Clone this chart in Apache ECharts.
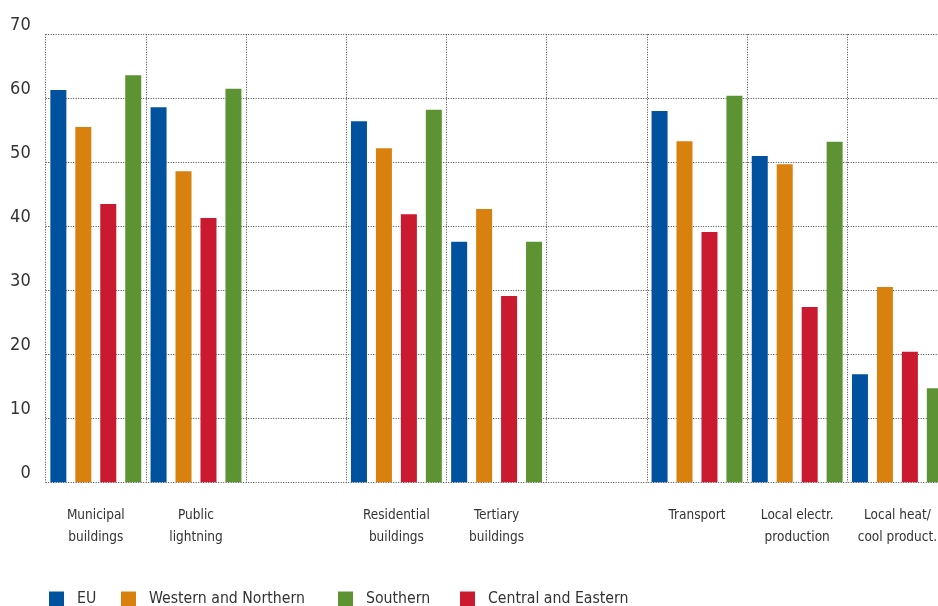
<!DOCTYPE html>
<html>
<head>
<meta charset="utf-8">
<script src="https://cdn.jsdelivr.net/npm/echarts@6/dist/echarts.min.js"></script>
<style>
html,body{margin:0;padding:0;background:#fff;overflow:hidden;width:938px;height:606px;}
#c{width:948px;height:606px;}
</style>
</head>
<body>
<div id="c"></div>
<script>
const categories = ["Municipal\nbuildings", "Public\nlightning", "", "Residential\nbuildings", "Tertiary\nbuildings", "", "Transport", "Local electr.\nproduction", "Local heat/\ncool product."];
const euValues       = [61.3, 58.6, null, 56.4, 37.6, null, 58.0, 51.0, 16.9];
const westernValues  = [55.5, 48.6, null, 52.2, 42.7, null, 53.3, 49.7, 30.5];
const centralValues  = [43.5, 41.3, null, 41.9, 29.1, null, 39.1, 27.4, 20.4];
const southernValues = [63.6, 61.5, null, 58.2, 37.6, null, 60.4, 53.2, 14.7];
const yTicks = [0, 10, 20, 30, 40, 50, 60, 70];

const FONT = "'DejaVu Sans Condensed', 'Liberation Sans Narrow', sans-serif";
const colors = {eu:'#00529f', west:'#d8810e', south:'#5e9333', central:'#c91a2f'};

const chart = echarts.init(document.getElementById('c'), null, {renderer:'canvas', width:948, height:606});
const dotted = {color:'#444', width:1, type:[1,1.5]};

function legendAt(left, name){
  return {
    data:[name], left:left, top:591, itemWidth:15, itemHeight:15, itemGap:0,
    icon:'rect', padding:0,
    textStyle:{fontFamily:FONT, fontSize:15.7, color:'#333', padding:[0,0,0,8]}
  };
}

chart.setOption({
  animation:false,
  backgroundColor:'#fff',
  grid:{left:45.7, top:34.3, width:901.8, height:448},
  legend:[
    legendAt(49, 'EU'),
    legendAt(121, 'Western and Northern'),
    legendAt(338, 'Southern'),
    legendAt(460, 'Central and Eastern')
  ],
  xAxis:{
    type:'category', data:categories, boundaryGap:true,
    axisLine:{show:false}, axisTick:{show:false},
    splitLine:{show:true, lineStyle:dotted},
    axisLabel:{interval:0, margin:22, fontFamily:FONT, fontSize:13.5, color:'#333', lineHeight:22}
  },
  yAxis:{
    type:'value', min:yTicks[0], max:yTicks[yTicks.length-1], interval:10,
    axisLine:{show:false}, axisTick:{show:false},
    splitLine:{show:true, lineStyle:dotted},
    axisLabel:{margin:15, verticalAlign:'bottom', fontFamily:FONT, fontSize:18, color:'#333'}
  },
  series:[
    {name:'EU', type:'bar', data:euValues, barWidth:16, barGap:'56%', itemStyle:{color:colors.eu}},
    {name:'Western and Northern', type:'bar', data:westernValues, barWidth:16, barGap:'56%', itemStyle:{color:colors.west}},
    {name:'Central and Eastern', type:'bar', data:centralValues, barWidth:16, barGap:'56%', itemStyle:{color:colors.central}},
    {name:'Southern', type:'bar', data:southernValues, barWidth:16, barGap:'56%', itemStyle:{color:colors.south}}
  ]
});
</script>
</body>
</html>
